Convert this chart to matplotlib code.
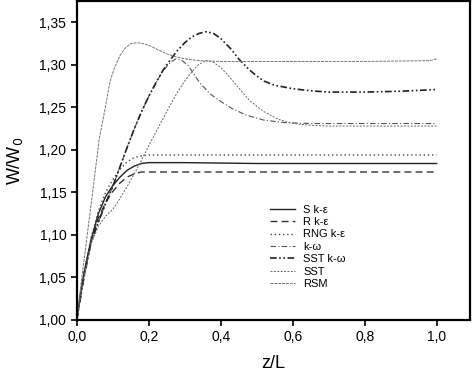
import matplotlib
matplotlib.use("Agg")
import matplotlib.pyplot as plt
from matplotlib.ticker import FuncFormatter, MultipleLocator

plt.rcParams['font.family'] = ['Liberation Sans', 'DejaVu Sans']

# values
z_ske = [0, 0.01, 0.02, 0.04, 0.06, 0.08, 0.10, 0.12, 0.14, 0.16, 0.18, 0.20, 0.25, 0.30, 0.50, 0.70, 1.00]
w_ske = [1.0, 1.03, 1.055, 1.095, 1.125, 1.145, 1.158, 1.168, 1.176, 1.181, 1.184, 1.185, 1.185, 1.185, 1.184, 1.184, 1.184]

z_rke = [0, 0.01, 0.02, 0.04, 0.06, 0.08, 0.10, 0.12, 0.14, 0.16, 0.18, 0.20, 0.40, 0.70, 1.00]
w_rke = [1.0, 1.03, 1.055, 1.093, 1.12, 1.138, 1.151, 1.161, 1.168, 1.172, 1.174, 1.174, 1.174, 1.174, 1.174]

z_rng = [0, 0.01, 0.02, 0.04, 0.06, 0.08, 0.10, 0.12, 0.14, 0.16, 0.18, 0.20, 0.40, 0.70, 1.00]
w_rng = [1.0, 1.03, 1.055, 1.097, 1.128, 1.15, 1.165, 1.177, 1.186, 1.191, 1.193, 1.194, 1.194, 1.194, 1.194]

z_kw = [0, 0.02, 0.04, 0.06, 0.08, 0.10, 0.12, 0.14, 0.16, 0.18, 0.20, 0.22, 0.24, 0.26, 0.275,
        0.29, 0.31, 0.34, 0.37, 0.40, 0.43, 0.47, 0.52, 0.58, 0.65, 0.80, 1.00]
w_kw = [1.0, 1.05, 1.092, 1.115, 1.137, 1.157, 1.18, 1.203, 1.225, 1.245, 1.263, 1.279, 1.293, 1.303, 1.307,
        1.306, 1.299, 1.280, 1.266, 1.257, 1.249, 1.241, 1.235, 1.232, 1.231, 1.231, 1.231]

z_sstkw = [0, 0.02, 0.04, 0.06, 0.08, 0.10, 0.12, 0.14, 0.16, 0.18, 0.20, 0.22, 0.24, 0.26, 0.28,
           0.30, 0.32, 0.34, 0.36, 0.38, 0.40, 0.43, 0.45, 0.48, 0.50, 0.52, 0.55, 0.60, 0.65,
           0.70, 0.80, 0.90, 1.00]
w_sstkw = [1.0, 1.05, 1.092, 1.115, 1.137, 1.157, 1.18, 1.203, 1.225, 1.245, 1.263, 1.279, 1.294, 1.306, 1.317,
           1.326, 1.333, 1.337, 1.339, 1.337, 1.331, 1.318, 1.307, 1.294, 1.287, 1.281, 1.276, 1.272, 1.2695,
           1.268, 1.268, 1.269, 1.271]

z_sst = [0, 0.02, 0.04, 0.06, 0.08, 0.10, 0.12, 0.14, 0.16, 0.18, 0.20, 0.22, 0.24, 0.26, 0.28, 0.30,
         0.32, 0.34, 0.36, 0.38, 0.40, 0.42, 0.45, 0.48, 0.52, 0.56, 0.60, 0.65, 0.70, 1.00]
w_sst = [1.0, 1.05, 1.09, 1.11, 1.122, 1.13, 1.143, 1.157, 1.172, 1.188, 1.205, 1.221, 1.237, 1.253, 1.268, 1.281,
         1.292, 1.301, 1.305, 1.303, 1.297, 1.288, 1.273, 1.258, 1.245, 1.236, 1.231, 1.229, 1.228, 1.228]

z_rsm = [0, 0.007, 0.014, 0.029, 0.044, 0.062, 0.078, 0.092, 0.105, 0.12, 0.135, 0.15, 0.165, 0.18,
         0.20, 0.225, 0.25, 0.28, 0.31, 0.34, 0.40, 0.60, 0.80, 0.98, 1.00]
w_rsm = [1.0, 1.025, 1.05, 1.10, 1.15, 1.212, 1.247, 1.28, 1.297, 1.311, 1.32, 1.325, 1.326, 1.3255,
         1.323, 1.318, 1.313, 1.309, 1.3065, 1.305, 1.304, 1.304, 1.304, 1.305, 1.307]

labels = ["S k-\u03b5", "R k-\u03b5", "RNG k-\u03b5", "k-\u03c9", "SST k-\u03c9", "SST", "RSM"]

fig = plt.figure(figsize=(4.74, 3.72), dpi=100)
ax = fig.add_axes([0.162, 0.14, 0.829, 0.857])

ax.plot(z_ske, w_ske, color='#222222', lw=1.0, ls='-', label=labels[0])
ax.plot(z_rke, w_rke, color='#333333', lw=1.0, ls=(0, (5, 3)), label=labels[1])
ax.plot(z_rng, w_rng, color='#444444', lw=1.0, ls=(0, (1, 2)), label=labels[2])
ax.plot(z_kw, w_kw, color='#555555', lw=0.8, ls=(0, (5, 2, 1, 2)), label=labels[3])
ax.plot(z_sstkw, w_sstkw, color='#222222', lw=1.2, ls=(0, (4, 1.5, 1, 1.5, 1, 1.5)), label=labels[4])
ax.plot(z_sst, w_sst, color='#666666', lw=0.7, ls=(0, (2, 1.5)), label=labels[5])
ax.plot(z_rsm, w_rsm, color='#777777', lw=0.7, ls=(0, (3, 1)), label=labels[6])

ax.set_xlim(0, 1.092)
ax.set_ylim(1.0, 1.375)
ax.xaxis.set_major_locator(MultipleLocator(0.2))
ax.yaxis.set_major_locator(MultipleLocator(0.05))
ax.xaxis.set_major_formatter(FuncFormatter(lambda v, p: f"{v:.1f}".replace('.', ',')))
ax.yaxis.set_major_formatter(FuncFormatter(lambda v, p: f"{v:.2f}".replace('.', ',')))
ax.tick_params(direction='out', length=4, width=1.2, labelsize=10, colors='black')

for s in ax.spines.values():
    s.set_linewidth(1.6)

ax.set_xlabel("z/L", fontsize=13)
ax.set_ylabel("W/W$_0$", fontsize=13)
ax.xaxis.set_label_coords(0.5, -0.11)
ax.yaxis.set_label_coords(-0.132, 0.5)

ax.legend(loc='upper left', bbox_to_anchor=(0.491, 0.362), frameon=False, fontsize=8,
          handlelength=2.3, handletextpad=0.7, labelspacing=0.22, borderpad=0, borderaxespad=0)

fig.savefig("out.png", dpi=100)
